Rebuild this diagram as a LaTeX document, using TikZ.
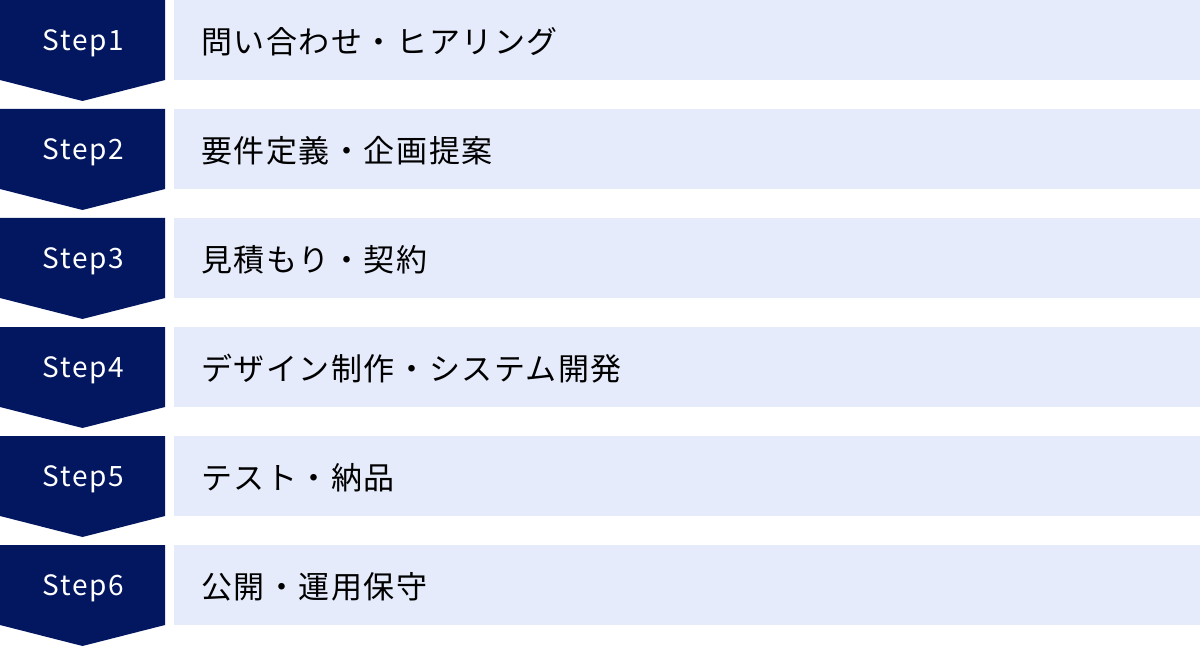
\documentclass[tikz,border=0pt]{standalone}
\usepackage{fontspec}
\setmainfont{Noto Sans CJK JP}
\newfontfamily\spacedfont[LetterSpace=6]{Noto Sans CJK JP}
\newfontfamily\rowfont[LetterSpace=5]{Noto Sans CJK JP}
\definecolor{stepnavy}{RGB}{3,23,96}
\definecolor{rowblue}{RGB}{229,235,250}

\begin{document}
\begin{tikzpicture}[x=1pt, y=-1pt,
  steplabel/.style={text=white, inner sep=0pt, font=\spacedfont\fontsize{28}{28}\selectfont},
  rowtext/.style={anchor=west, text=black, inner sep=0pt, font=\rowfont\fontsize{31}{31}\selectfont}]
\useasboundingbox (0,0) rectangle (1200,647);
\foreach \i/\t in {1/問い合わせ・ヒアリング, 2/要件定義・企画提案, 3/見積もり・契約,
    4/デザイン制作・システム開発, 5/テスト・納品, 6/公開・運用保守} {
  \pgfmathsetmacro{\rowy}{(\i-1)*109}
  \fill[stepnavy] (0,\rowy) -- (165,\rowy) -- (165,\rowy+80) -- (82.5,\rowy+101) -- (0,\rowy+80) -- cycle;
  \fill[rowblue] (174,\rowy) rectangle (1200,\rowy+80);
  \node[steplabel] (step\i) at (83.5,\rowy+43) {Step\i};
  \node[rowtext] (task\i) at (201,\rowy+41.5) {\t};
}
\end{tikzpicture}
\end{document}
